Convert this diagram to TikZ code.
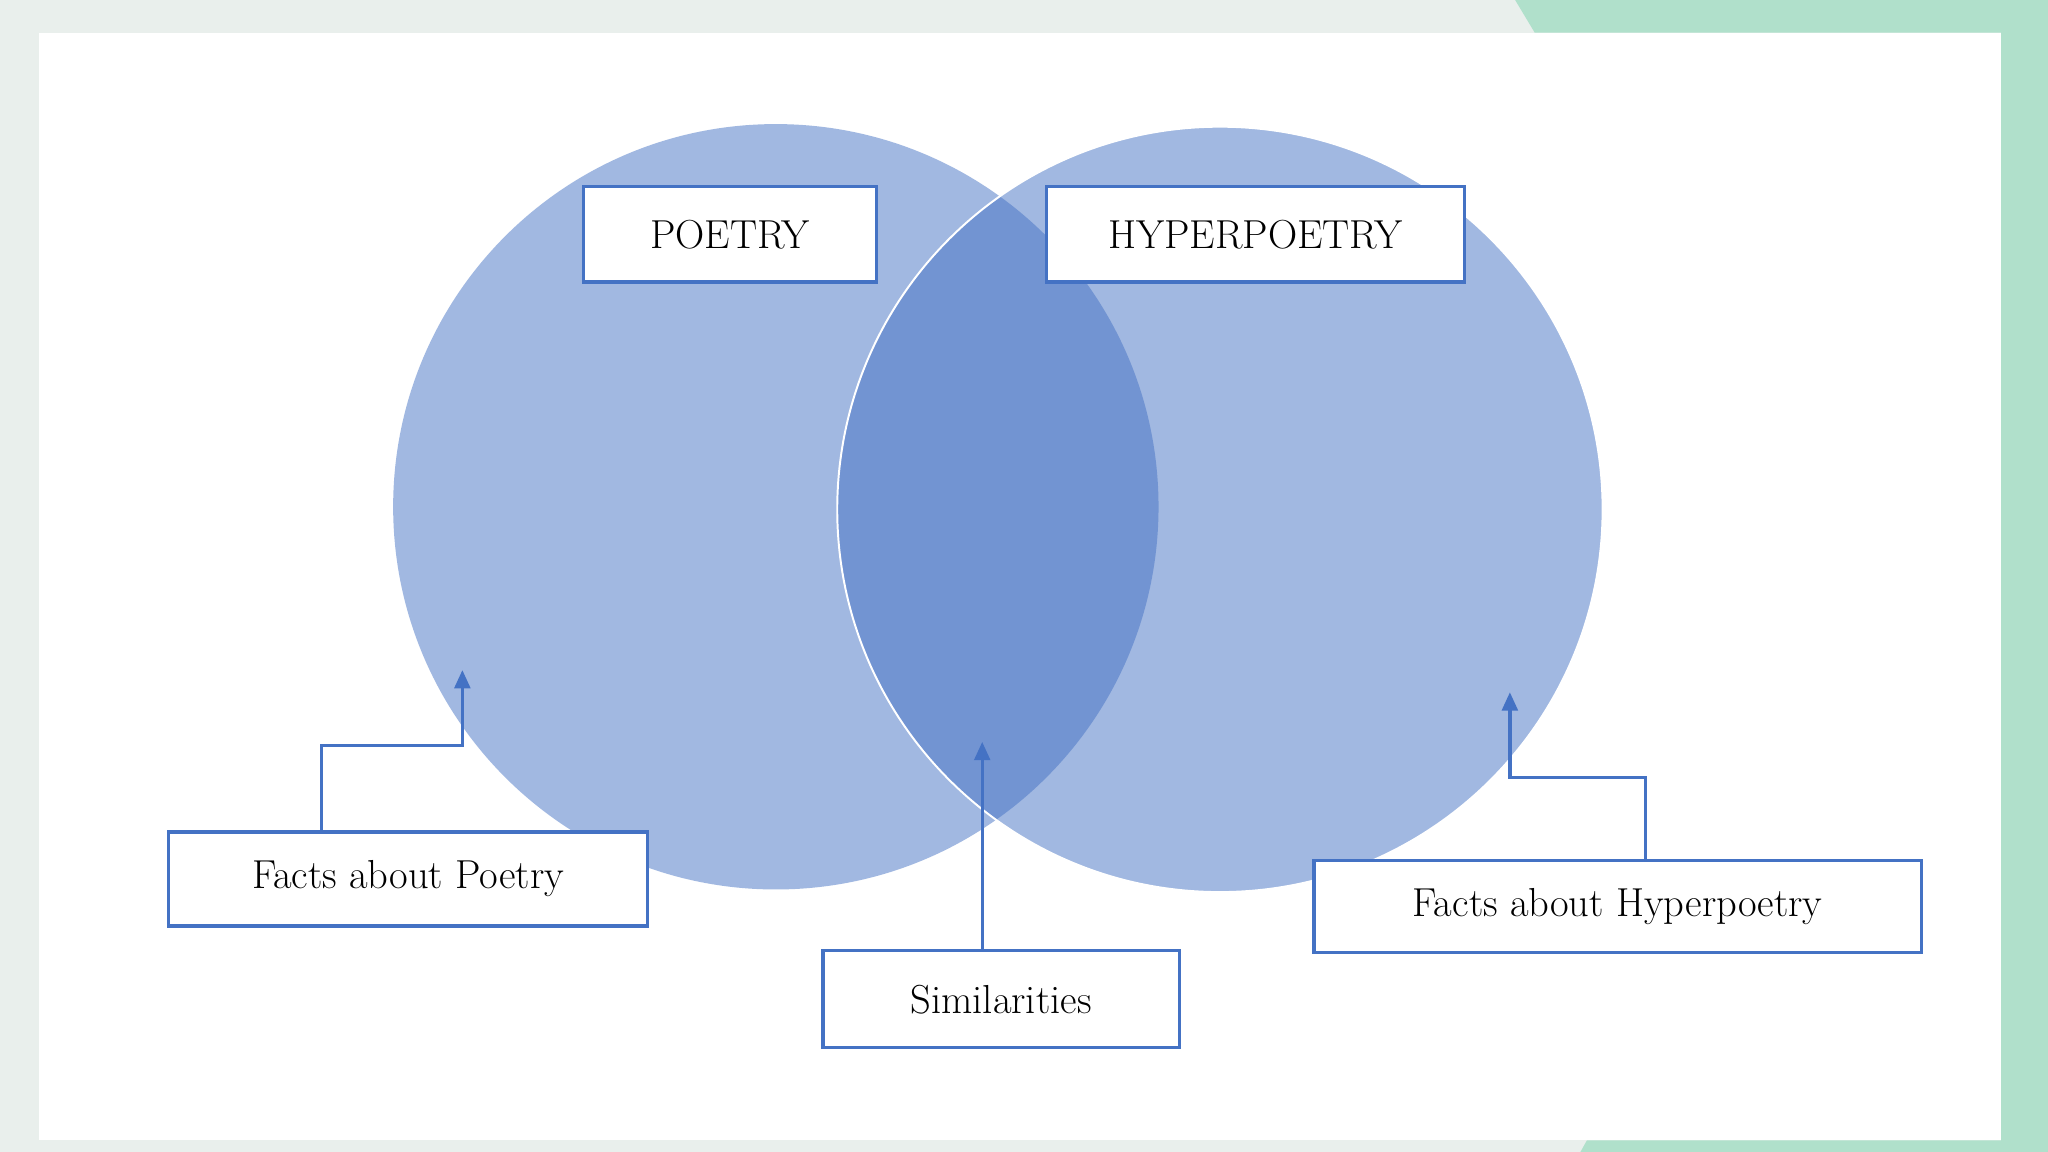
\documentclass[tikz,border=0pt]{standalone}
\usetikzlibrary{arrows.meta}
\definecolor{bgc}{HTML}{E9EFEC}
\definecolor{grn}{HTML}{B0E0CB}
\definecolor{bl}{HTML}{4472C4}
\tikzset{
  lbl/.style={draw=bl,line width=2.5pt,fill=white,inner sep=0pt,font=\fontsize{31}{36}\selectfont},
  conn/.style={draw=bl,line width=2.5pt,-{Triangle[length=14pt,width=12pt]}},
  circ/.style={fill=bl,fill opacity=0.5}
}
\begin{document}
\begin{tikzpicture}[x=1pt,y=-1pt]
\useasboundingbox (0,0) rectangle (1568,882);
\fill[bgc] (0,0) rectangle (1568,882);
\fill[grn] (1160,0) -- (1568,0) -- (1568,882) -- (1210,882) -- (1215,873) -- (1532,873) -- (1532,25) -- (1175,25) -- cycle;
\fill[white] (30,25) rectangle (1532,873);
\fill[grn] (1532,180) .. controls (1545,175) and (1556,172) .. (1568,170) -- (1568,0) -- (1532,0) -- cycle;
\fill[grn] (1532,545) .. controls (1545,535) and (1556,530) .. (1568,528) -- (1568,882) -- (1532,882) -- cycle;
\fill[circ] (594,388) circle (293);
\fill[circ] (934,390) circle (293);
\draw[white,line width=1.5pt] (934,390) circle (293);
\node[lbl,minimum width=224pt,minimum height=73pt] (poe) at (559,179.5) {POETRY};
\node[lbl,minimum width=320pt,minimum height=73pt] (hyp) at (961,179.5) {HYPERPOETRY};
\node[lbl,minimum width=367pt,minimum height=72pt] (fp) at (312.5,673) {Facts about Poetry};
\node[lbl,minimum width=273pt,minimum height=74pt] (sim) at (766.5,765) {Similarities};
\node[lbl,minimum width=465pt,minimum height=70pt] (fh) at (1238.5,694) {Facts about Hyperpoetry};
\coordinate (a1) at (354,513);
\coordinate (a2) at (752,568);
\coordinate (a3) at (1156,530);
\draw[conn] (fp.north -| 246,0) -- (246,571) -- (354,571) -- (a1);
\draw[conn] (sim.north -| a2) -- (a2);
\draw[conn] (fh.north -| 1260,0) -- (1260,595) -- (1156,595) -- (a3);
\end{tikzpicture}
\end{document}
